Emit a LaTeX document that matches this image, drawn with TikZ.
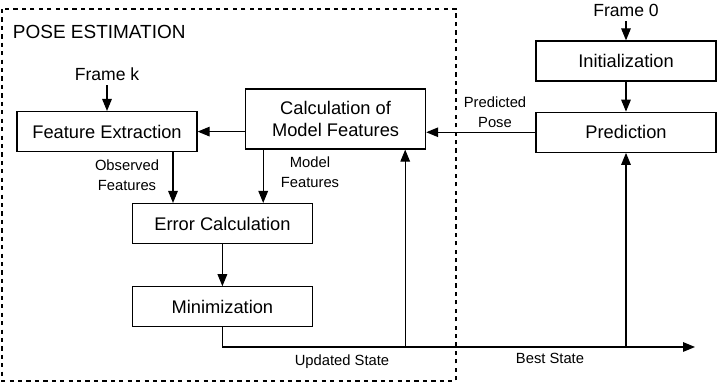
\documentclass[tikz,border=0pt]{standalone}
\usepackage{fontspec}
\setmainfont{Liberation Sans}
\usetikzlibrary{arrows.meta, positioning}

\begin{document}
\begin{tikzpicture}[
    node distance=0.75cm,
    block/.style={rectangle, draw, line width=0.9pt, minimum height=1cm, minimum width=4.5cm,
                  align=center, font=\fontsize{13}{15.5}\selectfont},
    lbl/.style={align=center, font=\fontsize{10.5}{14}\selectfont},
    arrow/.style={-{Triangle[length=0.3cm, width=0.24cm]}, line width=0.8pt},
    line/.style={line width=0.8pt},
    region/.style={dashed, line width=0.8pt}
]
\useasboundingbox (0,0) rectangle (17.95,-9.625);

% pose estimation region
\draw[region] (0.05,-0.225) rectangle (11.4,-9.525);
\node[anchor=west, font=\fontsize{13.5}{15}\selectfont] (title) at (0.2,-0.8) {POSE ESTIMATION};

% blocks
\node[block] (feat) at (2.675,-3.29) {Feature Extraction};
\node[block, minimum height=1.5cm] (calc) at (8.39,-2.975) {Calculation of\\Model Features};
\node[block] (err) at (5.56,-5.59) {Error Calculation};
\node[block, below=1.05cm of err] (mini) {Minimization};
\node[block] (init) at (15.65,-1.525) {Initialization};
\node[block, below=of init] (pred) {Prediction};

% inputs
\node[font=\fontsize{12.5}{14}\selectfont] (framek) at (2.675,-1.85) {Frame k};
\node[font=\fontsize{12.5}{14}\selectfont] (frame0) at (15.65,-0.25) {Frame 0};
\draw[arrow] (framek) -- (feat);
\draw[arrow] (frame0) -- (init);

\draw[arrow] (init) -- (pred);
\draw[arrow] (pred.west) -- (pred.west -| calc.east);
\draw[arrow] (calc.west |- feat.east) -- (feat.east);
\draw[arrow] ([xshift=1.65cm]feat.south) -- ([xshift=1.65cm]feat.south |- err.north);
\draw[arrow] ([xshift=-1.81cm]calc.south) -- ([xshift=-1.81cm]calc.south |- err.north);
\draw[arrow] (err) -- (mini);

% state feedback
\coordinate (bend) at (mini.south |- 0,-8.675);
\coordinate (upd) at ([xshift=1.74cm]calc.south |- bend);
\coordinate (best) at (pred.south |- bend);
\coordinate (out) at (17.375,-8.675);
\draw[line] (mini.south) -- (bend);
\draw[arrow] (bend) -- (out);
\draw[arrow] (upd) -- ([xshift=1.74cm]calc.south);
\draw[arrow] (best) -- (pred.south);

% labels
\node[lbl] (obs) at (3.175,-4.375) {Observed\\Features};
\node[lbl] (modf) at (7.75,-4.3) {Model\\Features};
\node[lbl] (ppose) at (12.375,-2.8) {Predicted\\Pose};
\node[lbl] (updl) at (8.55,-9.05) {Updated State};
\node[lbl] (bestl) at (13.75,-8.95) {Best State};
\end{tikzpicture}
\end{document}
